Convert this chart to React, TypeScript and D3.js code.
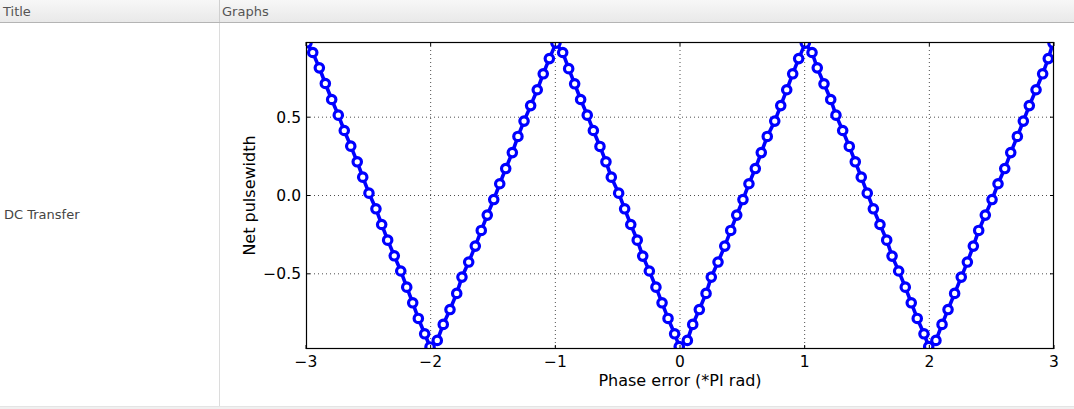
import React from "react";
import * as d3 from "d3";

const phaseError: number[] = [
  -2.992, -2.946, -2.893, -2.845, -2.794, -2.741, -2.693, -2.641, -2.589, -2.545,
  -2.495, -2.439, -2.393, -2.345, -2.292, -2.24, -2.192, -2.144, -2.099, -2.048,
  -2.005, -1.947, -1.899, -1.845, -1.791, -1.749, -1.695, -1.642, -1.594, -1.546,
  -1.494, -1.446, -1.398, -1.345, -1.3, -1.251, -1.198, -1.145, -1.097, -1.048,
  -0.995, -0.941, -0.893, -0.845, -0.797, -0.744, -0.695, -0.642, -0.594, -0.551,
  -0.492, -0.444, -0.395, -0.343, -0.299, -0.246, -0.193, -0.144, -0.096, -0.043,
  -0.006, 0.059, 0.102, 0.155, 0.209, 0.251, 0.305, 0.359, 0.407, 0.455,
  0.505, 0.553, 0.604, 0.652, 0.7, 0.76, 0.808, 0.856, 0.904, 0.952,
  1.005, 1.059, 1.101, 1.155, 1.209, 1.251, 1.305, 1.358, 1.406, 1.454,
  1.502, 1.551, 1.604, 1.658, 1.701, 1.754, 1.807, 1.855, 1.903, 1.957,
  1.995, 2.053, 2.102, 2.15, 2.203, 2.256, 2.305, 2.353, 2.396, 2.449,
  2.503, 2.551, 2.605, 2.653, 2.706, 2.754, 2.802, 2.856, 2.909, 2.954,
  2.992,
];

const netPulsewidth: number[] = [
  0.975, 0.913, 0.815, 0.715, 0.613, 0.513, 0.415, 0.315, 0.215, 0.117,
  0.015, -0.085, -0.185, -0.285, -0.385, -0.482, -0.585, -0.685, -0.785, -0.883,
  -0.967, -0.925, -0.823, -0.728, -0.625, -0.521, -0.425, -0.323, -0.223, -0.125,
  -0.026, 0.075, 0.172, 0.274, 0.377, 0.475, 0.574, 0.675, 0.777, 0.874,
  0.973, 0.913, 0.81, 0.713, 0.613, 0.513, 0.415, 0.313, 0.215, 0.117,
  0.015, -0.085, -0.185, -0.285, -0.387, -0.482, -0.585, -0.685, -0.785, -0.883,
  -0.964, -0.925, -0.823, -0.728, -0.625, -0.521, -0.425, -0.323, -0.223, -0.125,
  -0.026, 0.075, 0.172, 0.274, 0.377, 0.475, 0.574, 0.675, 0.777, 0.874,
  0.973, 0.913, 0.815, 0.713, 0.613, 0.513, 0.415, 0.313, 0.215, 0.117,
  0.015, -0.085, -0.185, -0.285, -0.387, -0.482, -0.585, -0.685, -0.785, -0.883,
  -0.964, -0.925, -0.823, -0.728, -0.625, -0.521, -0.425, -0.323, -0.223, -0.125,
  -0.026, 0.075, 0.172, 0.274, 0.377, 0.475, 0.574, 0.675, 0.777, 0.874,
  0.973,
];

const xTicks: number[] = [-3, -2, -1, 0, 1, 2, 3];
const yTicks: number[] = [-0.5, 0.0, 0.5];
const xDomain: [number, number] = [-3, 3];
const yDomain: [number, number] = [-0.98, 0.98];

const headerTitle = "Title";
const headerGraphs = "Graphs";
const rowTitle = "DC Transfer";
const xLabel = "Phase error (*PI rad)";
const yLabel = "Net pulsewidth";

const W = 1074;
const H = 409;
const plot = { left: 306, right: 1054, top: 42, bottom: 349 };

const fmtMinus = (s: string) => s.replace("-", "\u2212");

export default function App() {
  const x = d3.scaleLinear().domain(xDomain).range([plot.left, plot.right]);
  const y = d3.scaleLinear().domain(yDomain).range([plot.bottom, plot.top]);
  const pts = phaseError.map((p, i) => [p, netPulsewidth[i]] as [number, number]);
  const line = d3
    .line<[number, number]>()
    .x((d) => x(d[0]))
    .y((d) => y(d[1]));
  const font = "'DejaVu Sans', Verdana, sans-serif";
  const tickLen = 4;

  return (
    <svg
      width={W}
      height={H}
      style={{ position: "absolute", left: 0, top: 0, display: "block" }}
      fontFamily={font}
    >
      <defs>
        <linearGradient id="hdr" x1="0" y1="0" x2="0" y2="1">
          <stop offset="0" stopColor="#f7f7f7" />
          <stop offset="1" stopColor="#e9e9e9" />
        </linearGradient>
        <clipPath id="plotclip">
          <rect x={plot.left} y={plot.top} width={plot.right - plot.left} height={plot.bottom - plot.top} />
        </clipPath>
      </defs>
      <rect x={0} y={0} width={W} height={H} fill="#ffffff" />
      {/* header */}
      <rect x={0} y={0} width={W} height={22} fill="url(#hdr)" />
      <line x1={0} x2={W} y1={22.5} y2={22.5} stroke="#b4b4b4" strokeWidth={1} />
      <line x1={219.5} x2={219.5} y1={0} y2={22} stroke="#d0d0d0" strokeWidth={1} />
      <text x={3} y={16} fontSize={13} fill="#555">{headerTitle}</text>
      <text x={222} y={16} fontSize={13} fill="#555">{headerGraphs}</text>
      {/* row */}
      <line x1={219.5} x2={219.5} y1={23} y2={407} stroke="#dcdcdc" strokeWidth={1} />
      <text x={4} y={219} fontSize={13} fill="#444">{rowTitle}</text>
      <rect x={0} y={406} width={W} height={3} fill="#f0f0f0" />
      <line x1={0} x2={W} y1={406.5} y2={406.5} stroke="#e4e4e4" strokeWidth={1} />

      {/* grid */}
      <g stroke="#000" strokeWidth={0.7} strokeDasharray="1,3">
        {xTicks.filter((t) => t > xDomain[0] && t < xDomain[1]).map((t) => (
          <line key={"gx" + t} x1={x(t)} x2={x(t)} y1={plot.top} y2={plot.bottom} />
        ))}
        {yTicks.map((t) => (
          <line key={"gy" + t} x1={plot.left} x2={plot.right} y1={y(t)} y2={y(t)} />
        ))}
      </g>

      {/* data */}
      <g clipPath="url(#plotclip)">
        <path d={line(pts) || ""} fill="none" stroke="#0000ff" strokeWidth={3.6} strokeLinejoin="round" />
        {pts.map((d, i) => (
          <circle key={i} cx={x(d[0])} cy={y(d[1])} r={4.2} fill="#ffffff" stroke="#0000ff" strokeWidth={3.2} />
        ))}
      </g>

      {/* ticks */}
      <g stroke="#000" strokeWidth={1}>
        {xTicks.map((t) => (
          <g key={"tx" + t}>
            <line x1={x(t)} x2={x(t)} y1={plot.bottom} y2={plot.bottom - tickLen} />
            <line x1={x(t)} x2={x(t)} y1={plot.top} y2={plot.top + tickLen} />
          </g>
        ))}
        {yTicks.map((t) => (
          <g key={"ty" + t}>
            <line x1={plot.left} x2={plot.left + tickLen} y1={y(t)} y2={y(t)} />
            <line x1={plot.right} x2={plot.right - tickLen} y1={y(t)} y2={y(t)} />
          </g>
        ))}
      </g>

      {/* frame */}
      <rect
        x={plot.left + 0.5}
        y={plot.top + 0.5}
        width={plot.right - plot.left - 1}
        height={plot.bottom - plot.top - 1}
        fill="none"
        stroke="#000"
        strokeWidth={1.2}
      />

      {/* tick labels */}
      <g fontSize={15.5} fill="#000">
        {xTicks.map((t) => (
          <text key={"lx" + t} x={x(t)} y={plot.bottom + 18} textAnchor="middle">
            {fmtMinus(d3.format("d")(t))}
          </text>
        ))}
        {yTicks.map((t) => (
          <text key={"ly" + t} x={plot.left - 5} y={y(t) + 5.5} textAnchor="end">
            {fmtMinus(d3.format(".1f")(t))}
          </text>
        ))}
      </g>
      <text x={(plot.left + plot.right) / 2} y={386} textAnchor="middle" fontSize={16} fill="#000">
        {xLabel}
      </text>
      <text
        transform={`translate(255, ${(plot.top + plot.bottom) / 2}) rotate(-90)`}
        textAnchor="middle"
        fontSize={16}
        fill="#000"
      >
        {yLabel}
      </text>
    </svg>
  );
}
